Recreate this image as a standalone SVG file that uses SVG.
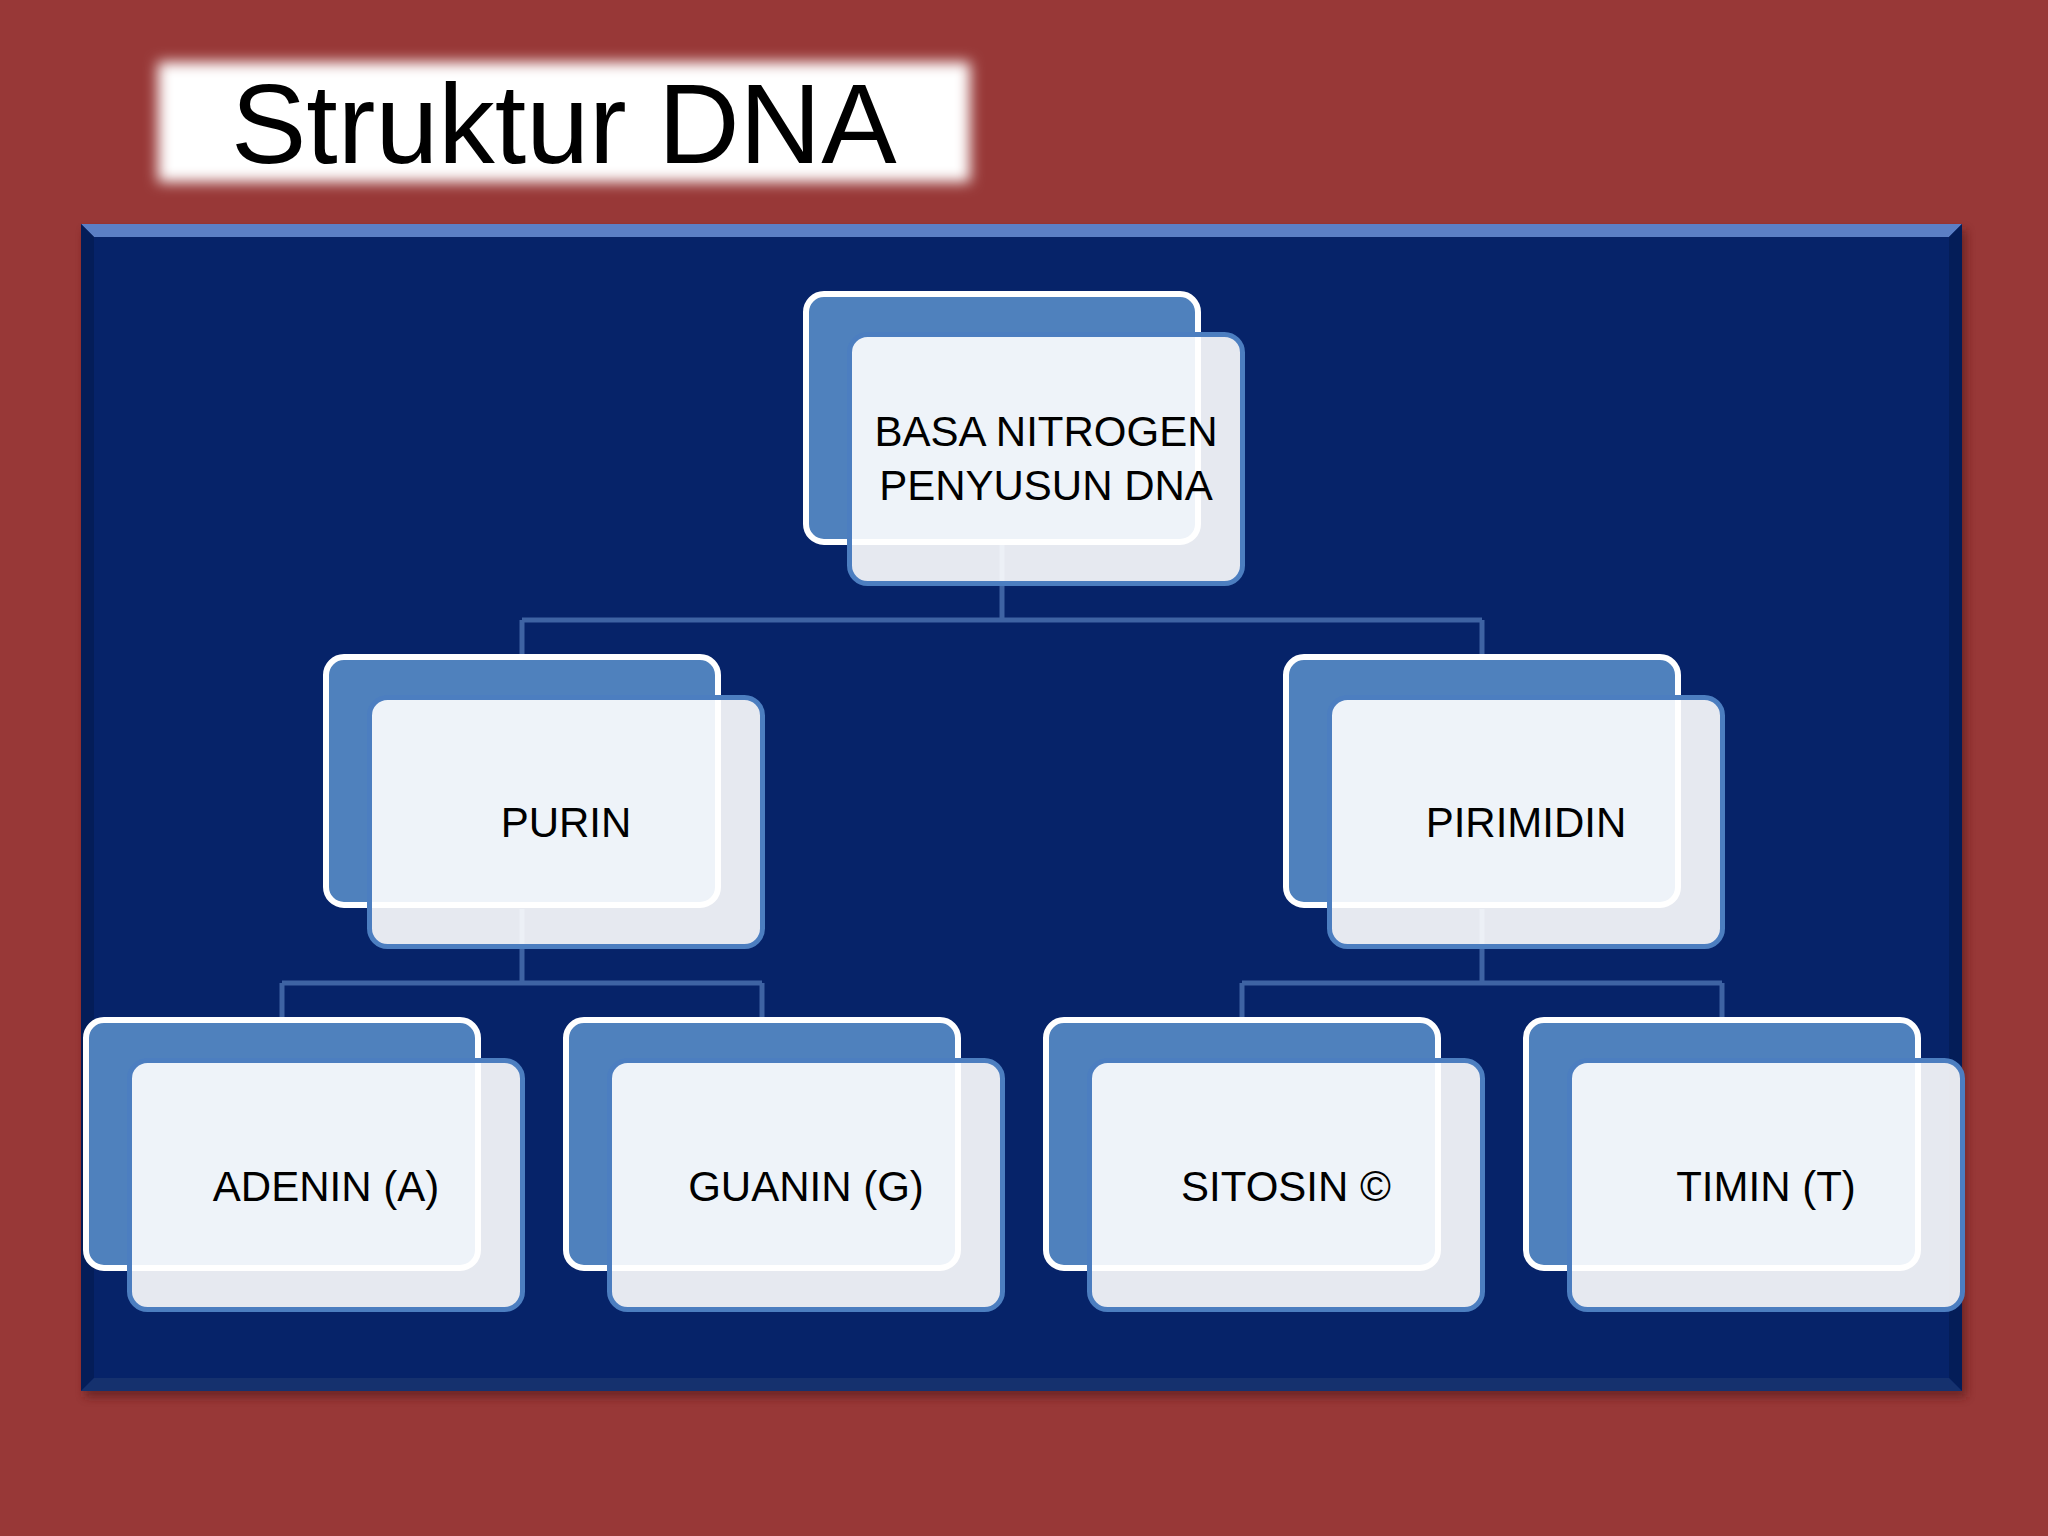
<svg xmlns="http://www.w3.org/2000/svg" width="2048" height="1536" viewBox="0 0 2048 1536">
<defs>
<filter id="soft" x="-10%" y="-20%" width="120%" height="140%"><feGaussianBlur stdDeviation="7"/></filter>
<filter id="shadow" x="-5%" y="-5%" width="110%" height="110%"><feGaussianBlur stdDeviation="5"/></filter>
</defs>
<style>
.back{fill:#4f81bd;stroke:#ffffff;stroke-width:6}
.front{fill:#ffffff;fill-opacity:0.9;stroke:#4c7ec0;stroke-width:5}
.lbl{font-family:"Liberation Sans",Arial,sans-serif;font-size:42px;fill:#000000;text-anchor:middle}
.conn{fill:none;stroke:#3e63a3;stroke-width:5}
</style>
<rect x="0" y="0" width="2048" height="1536" fill="#983837"/>
<g id="title">
<rect x="158" y="62" width="812" height="120" fill="#ffffff" filter="url(#soft)"/>
<text x="231" y="163" font-family="Liberation Sans, Arial, sans-serif" font-size="113" fill="#000000">Struktur DNA</text>
</g>
<g id="panel">
<rect x="85" y="230" width="1881" height="1167" fill="#5a1a1a" opacity="0.7" filter="url(#shadow)"/>
<rect x="81" y="224" width="1881" height="1167" fill="#062369"/>
<polygon points="81,224 1962,224 1949,237 94,237" fill="#5b7fc5"/>
<polygon points="81,224 94,237 94,1378 81,1391" fill="#041d58"/>
<polygon points="1962,224 1962,1391 1949,1378 1949,237" fill="#041d58"/>
<polygon points="81,1391 1962,1391 1949,1378 94,1378" fill="#15316e"/>
</g>
<g id="connectors">
<path class="conn" d="M1002 545 V620 M522 620 H1482 M522 620 V654 M1482 620 V654"/>
<path class="conn" d="M522 909 V983 M282 983 H762 M282 983 V1017 M762 983 V1017"/>
<path class="conn" d="M1482 909 V983 M1242 983 H1722 M1242 983 V1017 M1722 983 V1017"/>
</g>
<g id="n-basa">
<rect class="back" x="806" y="294" width="392" height="248" rx="18"/>
<rect class="front" x="849.5" y="334.5" width="393" height="249" rx="18"/>
<text class="lbl" x="1046" y="446">BASA NITROGEN</text>
<text class="lbl" x="1046" y="500">PENYUSUN DNA</text>
</g>
<g id="n-purin">
<rect class="back" x="326" y="657" width="392" height="248" rx="18"/>
<rect class="front" x="369.5" y="697.5" width="393" height="249" rx="18"/>
<text class="lbl" x="566" y="837">PURIN</text>
</g>
<g id="n-pirimidin">
<rect class="back" x="1286" y="657" width="392" height="248" rx="18"/>
<rect class="front" x="1329.5" y="697.5" width="393" height="249" rx="18"/>
<text class="lbl" x="1526" y="837">PIRIMIDIN</text>
</g>
<g id="n-adenin">
<rect class="back" x="86" y="1020" width="392" height="248" rx="18"/>
<rect class="front" x="129.5" y="1060.5" width="393" height="249" rx="18"/>
<text class="lbl" x="326" y="1201">ADENIN (A)</text>
</g>
<g id="n-guanin">
<rect class="back" x="566" y="1020" width="392" height="248" rx="18"/>
<rect class="front" x="609.5" y="1060.5" width="393" height="249" rx="18"/>
<text class="lbl" x="806" y="1201">GUANIN (G)</text>
</g>
<g id="n-sitosin">
<rect class="back" x="1046" y="1020" width="392" height="248" rx="18"/>
<rect class="front" x="1089.5" y="1060.5" width="393" height="249" rx="18"/>
<text class="lbl" x="1286" y="1201">SITOSIN ©</text>
</g>
<g id="n-timin">
<rect class="back" x="1526" y="1020" width="392" height="248" rx="18"/>
<rect class="front" x="1569.5" y="1060.5" width="393" height="249" rx="18"/>
<text class="lbl" x="1766" y="1201">TIMIN (T)</text>
</g>
</svg>
